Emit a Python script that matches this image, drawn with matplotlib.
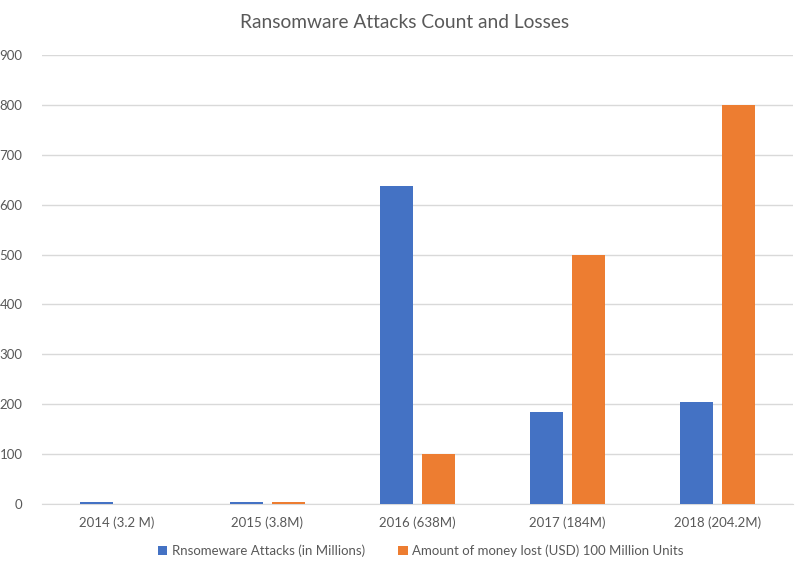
import numpy as np
from matplotlib import pyplot as plt

plt.rcParams['font.family'] = ['Lato', 'DejaVu Sans']

# data
years = ['2014 (3.2 M)', '2015 (3.8M)', '2016 (638M)', '2017 (184M)', '2018 (204.2M)']
attacks = [3.2, 3.8, 638, 184, 204.2]
losses = [0, 5, 100, 500, 800]
yticks = [0, 100, 200, 300, 400, 500, 600, 700, 800, 900]

blue = '#4472C4'
orange = '#ED7D31'
grey = '#595959'

fig = plt.figure(figsize=(8.1, 5.74), dpi=100)
ax = fig.add_axes([42 / 810, 1 - 504 / 574, (793 - 42) / 810, (504 - 55) / 574])

x = np.arange(len(years))
w = 0.22
off = 0.14
ax.bar(x - off, attacks, w, color=blue, label='Rnsomeware Attacks (in Millions)', zorder=3)
ax.bar(x + off, losses, w, color=orange, label='Amount of money lost (USD) 100 Million Units', zorder=3)

ax.set_xlim(-0.5, len(years) - 0.5)
ax.set_ylim(0, 900)
ax.set_yticks(yticks)
ax.set_xticks(x)
ax.set_xticklabels(years)
ax.grid(axis='y', color='#D9D9D9', linewidth=1, zorder=0)
for s in ['top', 'right', 'left']:
    ax.spines[s].set_visible(False)
ax.spines['bottom'].set_color('#D9D9D9')
ax.tick_params(length=0, colors=grey, labelsize=9.5)
ax.tick_params(axis='x', pad=9)
ax.tick_params(axis='y', pad=14)

fig.text(0.5, 1 - 22 / 574, 'Ransomware Attacks Count and Losses', ha='center', va='center',
         fontsize=13.8, color=grey)

fig.legend(loc='center', bbox_to_anchor=(421 / 810, 1 - 551 / 574), ncol=2, frameon=False,
           fontsize=9.55, labelcolor=grey, handlelength=0.7, handleheight=0.7,
           handletextpad=0.35, columnspacing=2.5)

plt.savefig('out.png', dpi=100)
